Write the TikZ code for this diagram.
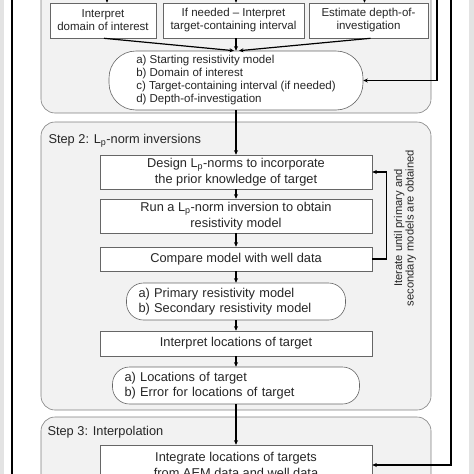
\documentclass[tikz,border=0pt]{standalone}
\usepackage{fontspec}
\setmainfont{Liberation Sans}
\usetikzlibrary{arrows.meta}

\begin{document}
\begin{tikzpicture}[x=1pt, y=-1pt,
  every node/.style={font=\fontsize{12.8}{15.5}\selectfont, text=black!85},
  small/.style={font=\fontsize{11.5}{13}\selectfont},
  panel/.style={draw=gray, fill=gray!10, rounded corners=14pt, line width=.6pt},
  box/.style={draw=black!60, fill=white, line width=.6pt, minimum width=272pt, align=center, inner sep=1pt},
  result/.style={draw=black!60, fill=white, line width=.6pt, align=left, inner ysep=1pt, inner xsep=12pt},
  arrow/.style={-{Stealth[length=4.5pt,width=4pt]}, line width=1.2pt},
  wire/.style={line width=1.4pt}]
  \useasboundingbox (0,0) rectangle (474,474);
  \clip (0,0) rectangle (474,474);
  \fill[gray!22] (0,0) rectangle (4,474);
  \fill[gray!22] (469,0) rectangle (474,474);
  % steps
  \draw[panel] (41,-30) rectangle (431,113);
  \draw[panel] (41,122) rectangle (431,410);
  \draw[panel] (41,417) rectangle (431,520);
  \node[anchor=west] (step2) at (45,141) {Step 2: L\textsubscript{p}-norm inversions};
  \node[anchor=west] (step3) at (44,432) {Step 3: Interpolation};
  % step 1
  \node[box, small, minimum width=106pt, minimum height=35pt] (domain) at (103,20.5) {Interpret\\domain of interest};
  \node[box, small, minimum width=141pt, minimum height=35pt] (interval) at (233.5,20.5) {If needed -- Interpret\\target-containing interval};
  \node[box, small, minimum width=119pt, minimum height=35pt] (depth) at (368.5,20.5) {Estimate depth-of-\\investigation};
  \node[result, small, rounded corners=27pt, inner xsep=1pt, minimum width=254pt, minimum height=59pt] (start) at (236,80.5) {a) Starting resistivity model\\b) Domain of interest\\c) Target-containing interval (if needed)\\d) Depth-of-investigation};
  % step 2
  \node[box, minimum height=34pt] (design) at (236,172) {Design L\textsubscript{p}-norms to incorporate\\the prior knowledge of target};
  \node[box, minimum height=34pt] (run) at (236,216) {Run a L\textsubscript{p}-norm inversion to obtain\\resistivity model};
  \node[box, minimum height=24pt] (compare) at (236,259) {Compare model with well data};
  \node[result, rounded corners=17pt, text width=195pt, minimum height=37pt] (models) at (236,301.5) {a) Primary resistivity model\\b) Secondary resistivity model};
  \node[box, minimum height=25pt] (locate) at (236,343.5) {Interpret locations of target};
  \node[result, rounded corners=17pt, text width=223pt, minimum height=37pt] (targets) at (236,385.5) {a) Locations of target\\b) Error for locations of target};
  \node[rotate=90, align=center, font=\fontsize{11.2}{11.5}\selectfont] (iterate) at (405,228) {Iterate until primary and\\secondary models are obtained};
  % step 3
  \node[box, minimum height=40pt] (integrate) at (236,465) {Integrate locations of targets\\from AEM data and well data};
  % connectors
  \coordinate (feedtop) at (437,-10);
  \coordinate (looptop) at (451,-10);
  \coordinate (lefttop) at (12,-10);
  \coordinate (leftbottom) at (12,490);
  \draw[arrow, rounded corners=5pt] (140,-6) -| ([xshift=4pt]domain.north);
  \draw[arrow] ([yshift=10pt]interval.north -| start.north) -- (interval.north -| start.north);
  \draw[arrow, rounded corners=5pt] (330,-6) -| ([xshift=-4pt]depth.north);
  \draw[arrow] ([xshift=1pt]domain.south) -- ([xshift=-2pt]start.north);
  \draw[arrow] (interval.south -| start.north) -- (start.north);
  \draw[arrow] ([xshift=2pt]depth.south) -- ([xshift=3pt]start.north);
  \foreach \a/\b in {start/design, design/run, run/compare, compare/models, models/locate, locate/targets, targets/integrate}
    \draw[arrow] (\a.south) -- (\b.north);
  \draw[arrow] (compare.east) -- ++(14,0) |- (design.east);
  \draw[arrow] (feedtop) |- (start.east);
  \draw[arrow, wire] (looptop) |- (integrate.east);
  \draw[wire] (lefttop) -- (leftbottom);
\end{tikzpicture}
\end{document}
